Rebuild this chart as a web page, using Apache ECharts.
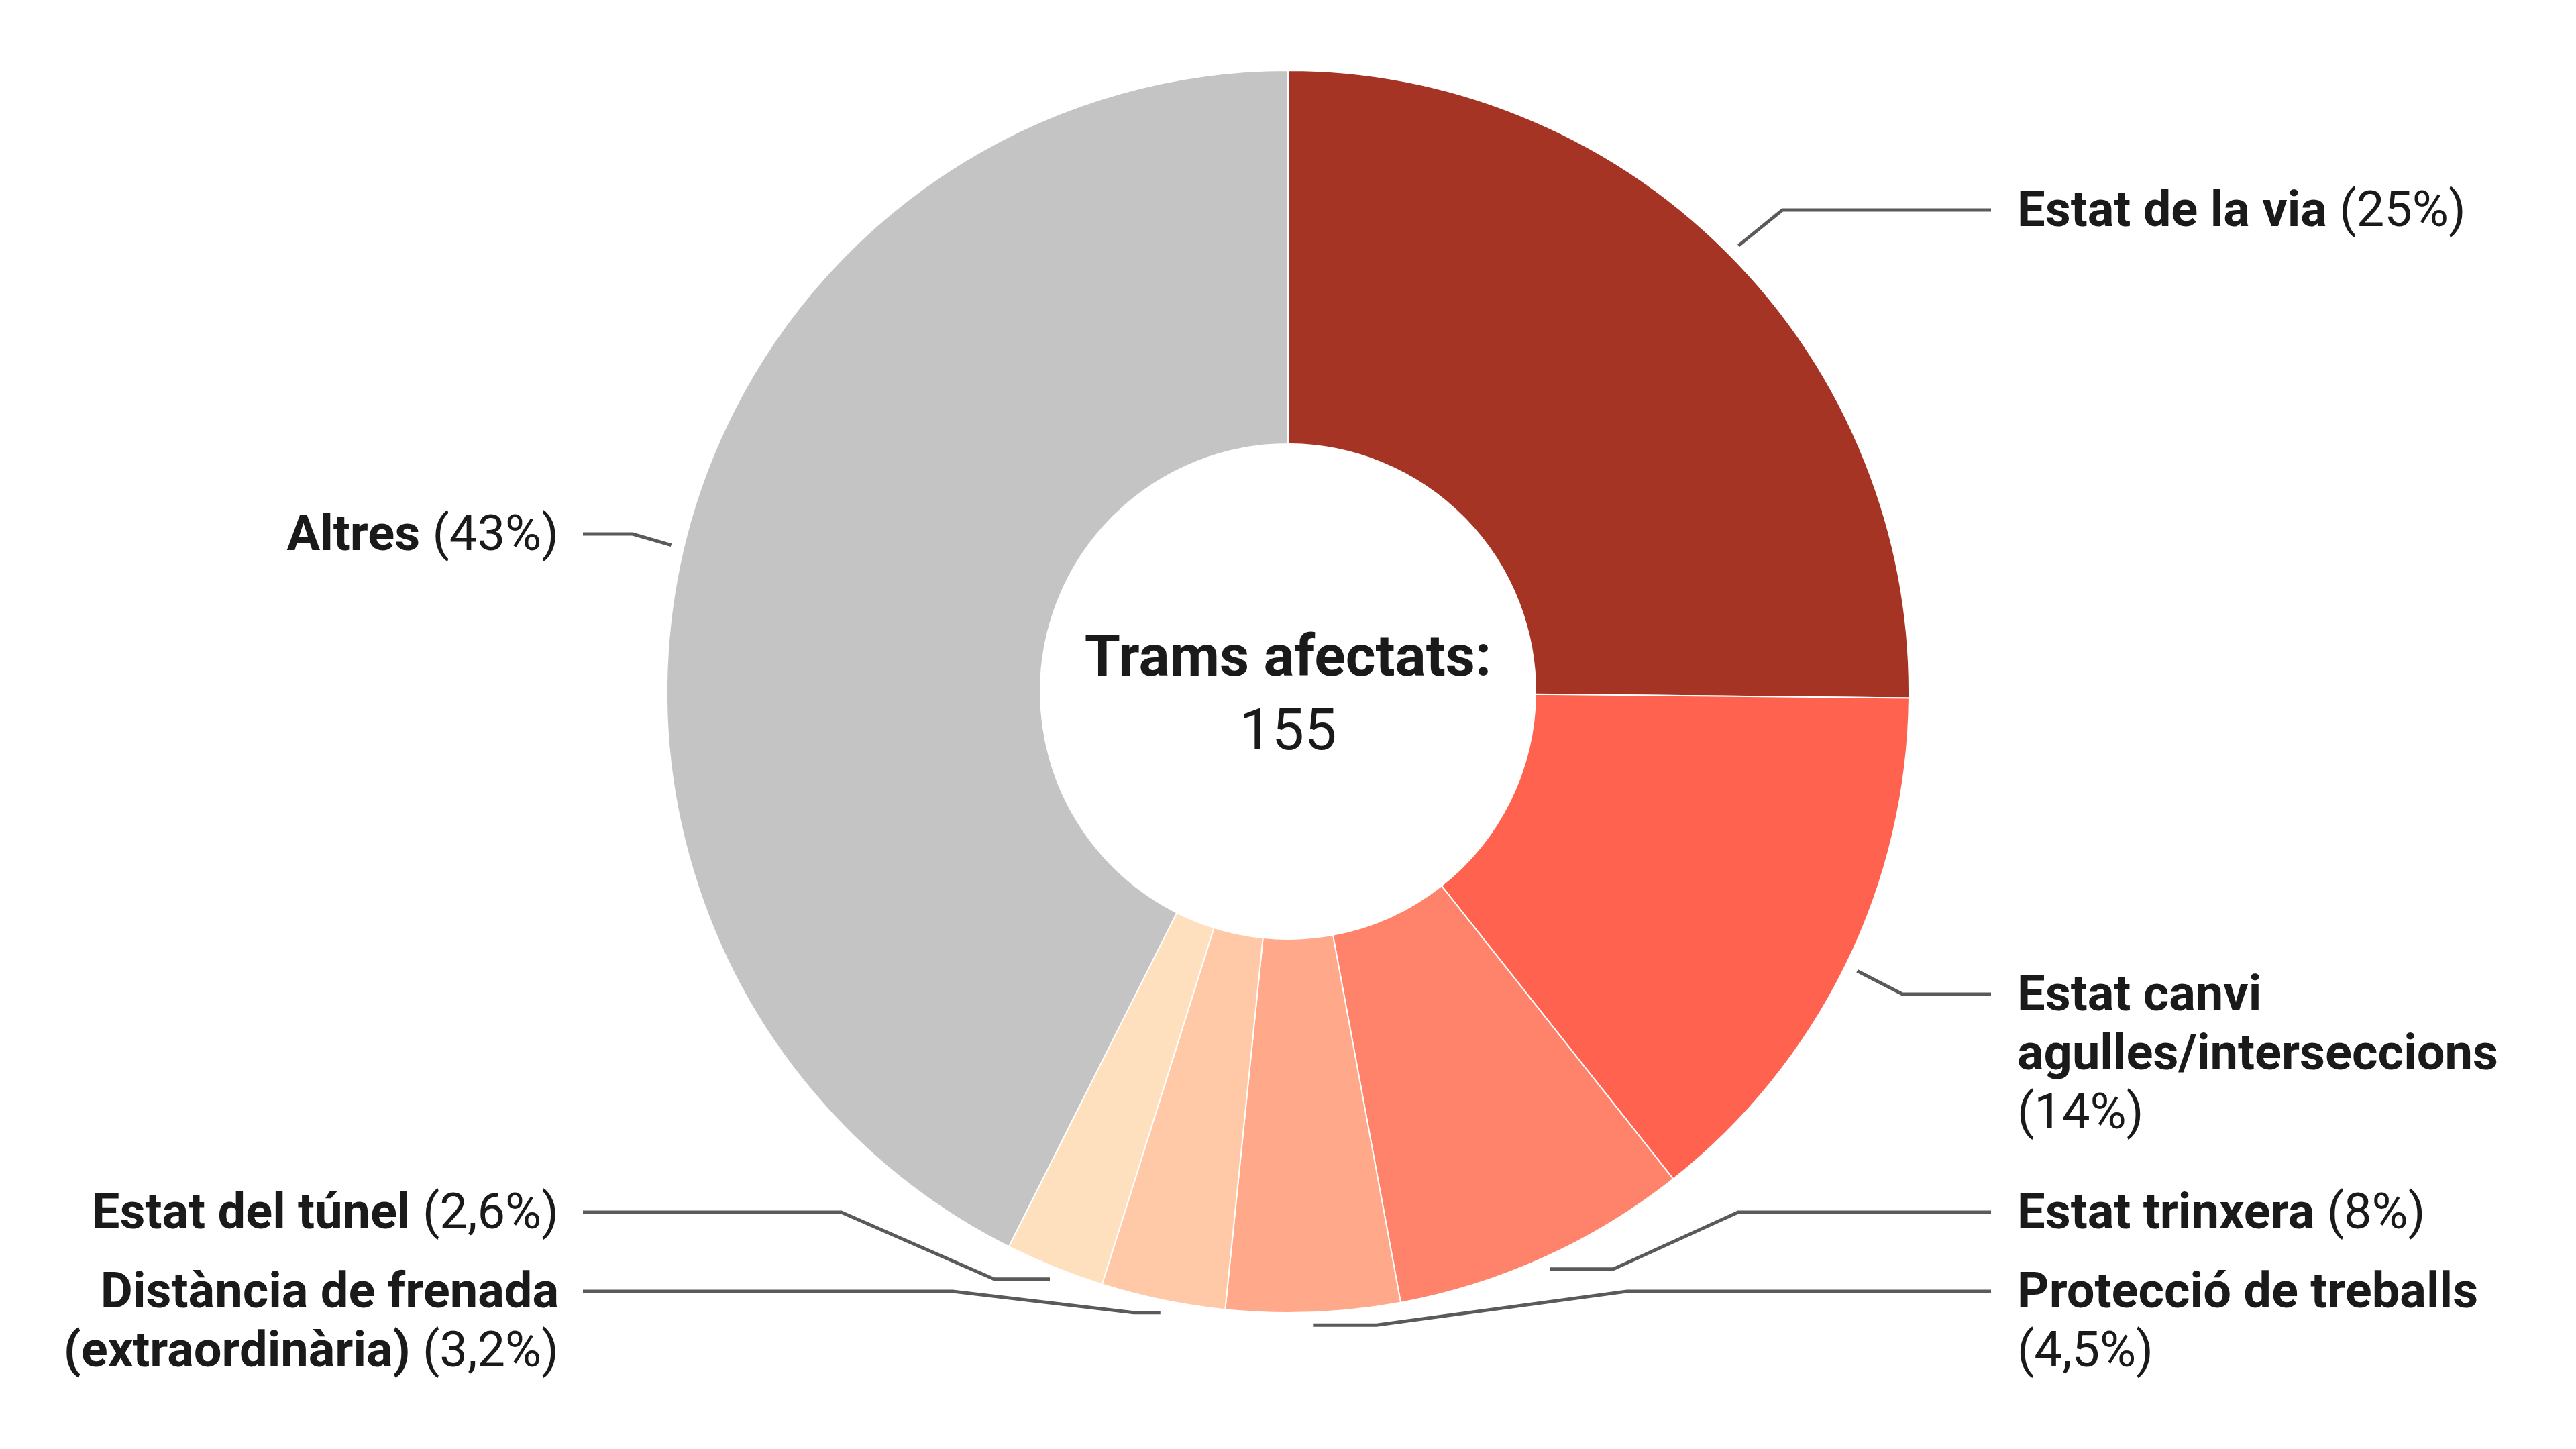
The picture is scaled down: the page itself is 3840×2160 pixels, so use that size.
<!DOCTYPE html>
<html>
<head>
<meta charset="utf-8">
<script src="https://cdn.jsdelivr.net/npm/echarts@6/dist/echarts.min.js"></script>
<style>
html,body{margin:0;padding:0;background:#ffffff;}
#chart{width:3840px;height:2160px;}
</style>
</head>
<body>
<div id="chart"></div>
<script>
// ---- data ----
const categories = ['Estat de la via', 'Estat canvi agulles/interseccions', 'Estat trinxera', 'Protecció de treballs', 'Distància de frenada (extraordinària)', 'Estat del túnel', 'Altres'];
const counts = [39, 22, 12, 7, 5, 4, 66];
const pctLabels = ['25%', '14%', '8%', '4,5%', '3,2%', '2,6%', '43%'];
const nameLines = [['Estat de la via'], ['Estat canvi', 'agulles/interseccions'], ['Estat trinxera'], ['Protecció de treballs'], ['Distància de frenada', '(extraordinària)'], ['Estat del túnel'], ['Altres']];
const pctOwnLine = [false, true, false, true, false, false, false];
const colors = ['#A63424', '#FF624E', '#FF836A', '#FFA88A', '#FFC9A8', '#FFE0BE', '#C4C4C4'];
const centerTitle = 'Trams afectats:';
const centerValue = '155';

// ---- layout (positions only) ----
const CX = 1920, CY = 1031, R_IN = 369, R_OUT = 926, R_LINE = 945;
const LH = 88;
const TEXT_SHIFT = 5;
const RIGHT_TEXT_X = 3007, RIGHT_LINE_END = 2968;
const LEFT_TEXT_X = 833, LEFT_LINE_END = 869;
const labelPlan = [
  {side: 'R', y: 313, knee: 2657},
  {side: 'R', y: 1482, knee: 2836},
  {side: 'R', y: 1807, knee: 2591, run: 2405},
  {side: 'R', y: 1925, knee: 2425, run: 2052},
  {side: 'L', y: 1925, knee: 1420, run: 1690},
  {side: 'L', y: 1807, knee: 1254, run: 1482},
  {side: 'L', y: 796, knee: 943}
];

const total = counts.reduce((a, b) => a + b, 0);
const cum = [];
counts.reduce((acc, v, i) => { cum[i] = acc; return acc + v; }, 0);

const seriesData = categories.map((n, i) => ({
  name: n,
  value: counts[i],
  itemStyle: {color: colors[i]}
}));

const chart = echarts.init(document.getElementById('chart'), null, {renderer: 'canvas'});
chart.setOption({
  animation: false,
  backgroundColor: '#ffffff',
  title: {
    text: centerTitle,
    subtext: centerValue,
    left: 'center',
    top: 935,
    padding: 0,
    itemGap: 10,
    textStyle: {fontFamily: 'Roboto', fontWeight: 'bold', fontSize: 86, lineHeight: 100, color: '#1a1a1a'},
    subtextStyle: {fontFamily: 'Roboto', fontWeight: 'normal', fontSize: 86, lineHeight: 100, color: '#1a1a1a'}
  },
  series: [{
    type: 'pie',
    center: [CX, CY],
    radius: [R_IN, R_OUT],
    startAngle: 90,
    clockwise: true,
    avoidLabelOverlap: false,
    silent: true,
    data: seriesData,
    itemStyle: {borderColor: '#ffffff', borderWidth: 2},
    emphasis: {disabled: true},
    label: {
      show: true,
      position: 'outside',
      fontFamily: 'Roboto',
      fontSize: 74,
      lineHeight: LH,
      color: '#1a1a1a',
      overflow: 'none',
      formatter: function (p) {
        const i = p.dataIndex;
        const lines = nameLines[i].map(l => '{b|' + l + '}').join('\n');
        return lines + (pctOwnLine[i] ? '\n' : ' ') + '{n|(' + pctLabels[i] + ')}';
      },
      rich: {
        b: {fontFamily: 'Roboto', fontWeight: 'bold', fontSize: 74, lineHeight: LH, color: '#1a1a1a'},
        n: {fontFamily: 'Roboto', fontWeight: 'normal', fontSize: 74, lineHeight: LH, color: '#1a1a1a'}
      }
    },
    labelLine: {
      show: true,
      length: 10,
      length2: 10,
      smooth: false,
      lineStyle: {color: '#5a5a5a', width: 5}
    },
    labelLayout: function (p) {
      const i = p.dataIndex;
      const L = labelPlan[i];
      const mid = (cum[i] + counts[i] / 2) / total * 2 * Math.PI;
      const p0 = [CX + R_LINE * Math.sin(mid), CY - R_LINE * Math.cos(mid)];
      const right = L.side === 'R';
      const endX = right ? RIGHT_LINE_END : LEFT_LINE_END;
      const pts = [p0];
      if (L.run) pts.push([L.run, p0[1]]);
      pts.push([L.knee, L.y]);
      pts.push([endX, L.y]);
      return {
        x: right ? RIGHT_TEXT_X : LEFT_TEXT_X,
        y: L.y - LH / 2 + TEXT_SHIFT,
        align: right ? 'left' : 'right',
        verticalAlign: 'top',
        labelLinePoints: pts
      };
    }
  }]
});
</script>
</body>
</html>
